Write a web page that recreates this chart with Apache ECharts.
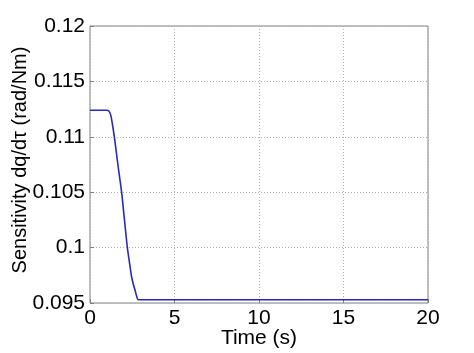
<!DOCTYPE html>
<html>
<head>
<meta charset="utf-8">
<script src="https://cdn.jsdelivr.net/npm/echarts@6/dist/echarts.min.js"></script>
<style>
  html, body { margin: 0; padding: 0; background: #fff; }
  #chart { width: 474px; height: 353px; }
</style>
</head>
<body>
<div id="chart"></div>
<script>
// values
const times = [0, 0.99, 1.1, 1.22, 1.32, 1.44, 1.65, 1.87, 2.04, 2.21, 2.35, 2.47, 2.58, 2.66, 2.76, 2.86, 20]
const sensitivity = [0.1124, 0.1124, 0.11235, 0.1120, 0.1112, 0.1100, 0.1075, 0.1050, 0.1025, 0.1000, 0.0985, 0.0973, 0.0966, 0.0962, 0.0956, 0.0953, 0.0953]
const xTicks = [0, 5, 10, 15, 20]
const yTicks = [0.095, 0.1, 0.105, 0.11, 0.115, 0.12]

const myChart = echarts.init(document.getElementById('chart'))

const font = '"Liberation Sans", Arial, sans-serif'

const option = {
  animation: false,
  grid: {
    left: 90,
    top: 26,
    right: 46,
    bottom: 50,
    outerBoundsMode: 'none',
    containLabel: false,
    show: true,
    borderColor: '#808080',
    borderWidth: 1
  },
  xAxis: {
    type: 'value',
    min: xTicks[0],
    max: xTicks[xTicks.length - 1],
    interval: 5,
    name: 'Time (s)',
    nameLocation: 'middle',
    nameGap: 25,
    nameMoveOverlap: false,
    nameTextStyle: { color: '#000', fontSize: 21, fontFamily: font },
    axisLine: { show: false },
    axisTick: { inside: true, length: 4, lineStyle: { color: '#808080' } },
    axisLabel: { color: '#000', fontSize: 21, fontFamily: font, margin: 5 },
    splitLine: { lineStyle: { color: '#b0b0b0', type: [1, 2] } }
  },
  yAxis: {
    type: 'value',
    min: yTicks[0],
    max: yTicks[yTicks.length - 1],
    interval: 0.005,
    name: 'Sensitivity dq/dτ (rad/Nm)',
    nameLocation: 'middle',
    nameGap: 60,
    nameMoveOverlap: false,
    nameTextStyle: { color: '#000', fontSize: 20, fontFamily: font, padding: [0, 0, 0, 9] },
    axisLine: { show: false },
    axisTick: { inside: true, length: 4, lineStyle: { color: '#808080' } },
    axisLabel: {
      color: '#000',
      fontSize: 21,
      fontFamily: font,
      margin: 5,
      formatter: v => String(parseFloat(v.toFixed(3)))
    },
    splitLine: { lineStyle: { color: '#b0b0b0', type: [1, 2] } }
  },
  series: [
    {
      type: 'line',
      data: times.map((t, i) => [t, sensitivity[i]]),
      smooth: 0.25,
      showSymbol: false,
      lineStyle: { color: '#2a2ab8', width: 1.6 }
    }
  ]
}

myChart.setOption(option)

window.addEventListener('resize', () => {
  myChart.resize()
})
</script>
</body>
</html>
